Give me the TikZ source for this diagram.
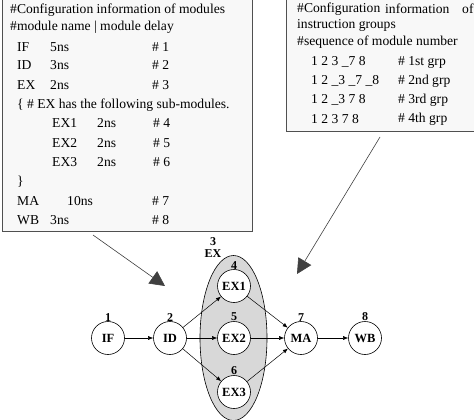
\documentclass[tikz,border=0pt]{standalone}
\usepackage{fontspec}
\setmainfont{Liberation Serif}
\usetikzlibrary{arrows.meta,shapes.geometric}
\definecolor{boxfill}{HTML}{F8F8F8}
\definecolor{boxline}{HTML}{505050}
\definecolor{exfill}{HTML}{D8D8D8}
\begin{document}
\begin{tikzpicture}[x=1pt,y=-1pt,
  cfgbox/.style={draw=boxline, line width=1.2pt, fill=boxfill, anchor=north west, inner sep=0pt},
  txt/.style={anchor=west, inner sep=0pt, font=\fontsize{13.6}{15}\selectfont},
  stage/.style={circle, draw=black, line width=0.6pt, fill=white, minimum size=33pt, inner sep=0pt, font=\fontsize{12.5}{14}\selectfont\bfseries},
  numlbl/.style={inner sep=0pt, font=\fontsize{12}{14}\selectfont\bfseries},
  exell/.style={ellipse, draw=black, line width=0.6pt, fill=exfill, minimum width=67pt, minimum height=165pt, inner sep=0pt},
  edge/.style={draw=black, line width=0.5pt, -{Latex[length=5pt,width=4pt]}},
  bigarrow/.style={draw=black!75, line width=0.6pt, -{Triangle[length=15pt,width=15pt]}}
]
\useasboundingbox (0,0) rectangle (474,420);
% left configuration box
\node[cfgbox, minimum width=250pt, minimum height=236pt] (boxA) at (2,-5) {};
\node[txt] (a1) at (10,10) {\#Configuration information of modules};
\node[txt] (a2) at (10,27) {\#module name | module delay};
\node[txt] (a3) at (17,47) {IF};
\node[txt] (a3b) at (50,47) {5ns};
\node[txt] (a3c) at (152,47) {\# 1};
\node[txt] (a4) at (17,65) {ID};
\node[txt] (a4b) at (50,65) {3ns};
\node[txt] (a4c) at (152,65) {\# 2};
\node[txt] (a5) at (17,85) {EX};
\node[txt] (a5b) at (50,85) {2ns};
\node[txt] (a5c) at (152,85) {\# 3};
\node[txt] (a6) at (17,105) {\{ \# EX has the following sub-modules.};
\node[txt] (a7) at (52,123) {EX1};
\node[txt] (a7b) at (97,123) {2ns};
\node[txt] (a7c) at (153,123) {\# 4};
\node[txt] (a8) at (52,143) {EX2};
\node[txt] (a8b) at (97,143) {2ns};
\node[txt] (a8c) at (153,143) {\# 5};
\node[txt] (a9) at (52,162) {EX3};
\node[txt] (a9b) at (97,162) {2ns};
\node[txt] (a9c) at (153,162) {\# 6};
\node[txt] (a10) at (17,182) {\}};
\node[txt] (a11) at (17,201) {MA};
\node[txt] (a11b) at (67,201) {10ns};
\node[txt] (a11c) at (152,201) {\# 7};
\node[txt] (a12) at (17,220) {WB};
\node[txt] (a12b) at (50,220) {3ns};
\node[txt] (a12c) at (152,220) {\# 8};
% right configuration box
\node[cfgbox, minimum width=200pt, minimum height=136pt] (boxB) at (286,-5) {};
\node[txt] (b1) at (297,9) {\#Configuration};
\node[txt] (b1b) at (385,9) {information};
\node[txt] (b1c) at (462,9) {of};
\node[txt] (b2) at (297,25) {instruction groups};
\node[txt] (b3) at (297,42) {\#sequence of module number};
\node[txt] (b4) at (311,62) {1 2 3 \_7 8};
\node[txt] (b4b) at (398,62) {\# 1st grp};
\node[txt] (b5) at (311,81) {1 2 \_3 \_7 \_8};
\node[txt] (b5b) at (398,81) {\# 2nd grp};
\node[txt] (b6) at (311,100) {1 2 \_3 7 8};
\node[txt] (b6b) at (398,100) {\# 3rd grp};
\node[txt] (b7) at (311,119) {1 2 3 7 8};
\node[txt] (b7b) at (398,119) {\# 4th grp};
% EX ellipse
\node[exell] (EX) at (233.5,338) {};
\node[numlbl] (n3) at (213,242) {3};
\node[numlbl] (exl) at (213,254) {EX};
% stages
\node[stage, label={[numlbl]above:1}] (IF) at (108,338) {IF};
\node[stage, label={[numlbl]above:2}] (ID) at (170,338) {ID};
\node[stage, label={[numlbl]above:4}] (EX1) at (234,286) {EX1};
\node[stage, label={[numlbl]above:5}] (EX2) at (234,338) {EX2};
\node[stage, label={[numlbl]above:6}] (EX3) at (234,392) {EX3};
\node[stage, label={[numlbl]above:7}] (MA) at (301,338) {MA};
\node[stage, label={[numlbl]above:8}] (WB) at (365,338) {WB};
% edges
\draw[edge] (IF) -- (ID);
\draw[edge] (ID) -- (EX1);
\draw[edge] (ID) -- (EX2);
\draw[edge] (ID) -- (EX3);
\draw[edge] (EX1) -- (MA);
\draw[edge] (EX2) -- (MA);
\draw[edge] (EX3) -- (MA);
\draw[edge] (MA) -- (WB);
% big arrows
\coordinate (la) at (93,235);
\coordinate (lt) at (165,286);
\coordinate (ra) at (380,137);
\coordinate (rt) at (297,274);
\draw[bigarrow] (la) -- (lt);
\draw[bigarrow] (ra) -- (rt);
\end{tikzpicture}
\end{document}
